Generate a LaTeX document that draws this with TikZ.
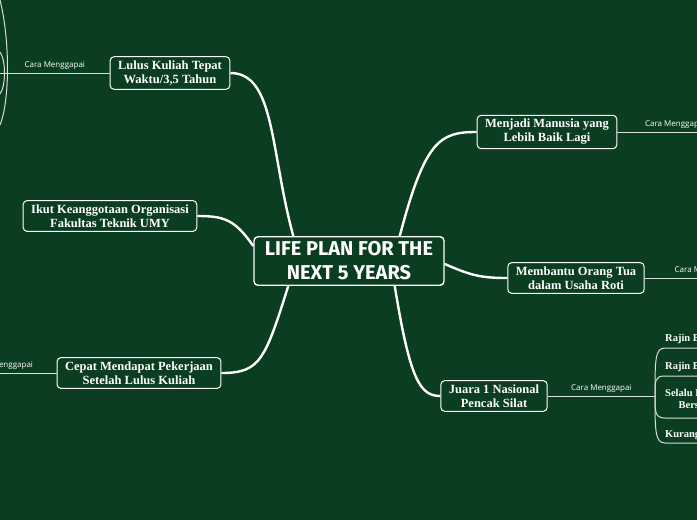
\documentclass[tikz,border=0pt]{standalone}
\usepackage{fontspec}
\setmainfont{Liberation Serif}
\newfontfamily\titlefont{Fira Sans}
\newfontfamily\smallfont{Open Sans}
\definecolor{bg}{HTML}{0B3D21}
\definecolor{ln}{HTML}{D8DED9}
\begin{document}
\begin{tikzpicture}[x=1pt,y=-1pt,
  topic/.style={draw=white,line width=1pt,rounded corners=4pt,fill=bg,text=white,font=\bfseries\fontsize{12.5}{14}\selectfont,align=center,inner xsep=8pt,inner ysep=4pt},
  central/.style={draw=white,line width=1.4pt,rounded corners=4pt,fill=bg,text=white,font=\titlefont\bfseries\fontsize{20}{24}\selectfont,align=center,inner xsep=11pt,inner ysep=5pt},
  branch/.style={draw=white,line width=2.4pt},
  sub/.style={draw=ln,line width=1pt},
  lab/.style={text=white,font=\smallfont\fontsize{8}{9}\selectfont},
  item/.style={text=white,font=\bfseries\fontsize{10.5}{12}\selectfont,anchor=west,inner sep=1pt}]
\fill[bg] (0,0) rectangle (697,520);
\useasboundingbox (0,0) rectangle (697,520);
\clip (0,0) rectangle (697,520);
\coordinate (l1) at (0,73);
\coordinate (l3) at (0,373);
\coordinate (r1) at (697,132);
\coordinate (r2) at (697,278);
\coordinate (r3) at (655,396);
\draw[sub] (0,0) .. controls (10,40) and (10,100) .. (0,125);
\draw[sub] (0,52) .. controls (6,60) and (6,86) .. (0,94);
\node[topic] (lulus) at (170,73) {Lulus Kuliah Tepat\\Waktu/3,5 Tahun};
\node[topic] (ikut) at (110,216) {Ikut Keanggotaan Organisasi\\Fakultas Teknik UMY};
\node[topic] (cepat) at (139,373) {Cepat Mendapat Pekerjaan\\Setelah Lulus Kuliah};
\node[topic] (menjadi) at (547,132) {Menjadi Manusia yang\\Lebih Baik Lagi};
\node[topic] (membantu) at (576,278) {Membantu Orang Tua\\dalam Usaha Roti};
\node[topic] (juara) at (494,396) {Juara 1 Nasional\\Pencak Silat};
\draw[sub] (lulus.west) -- (l1) node[lab,pos=0.5,above=0pt] {Cara Menggapai};
\draw[sub] (cepat.west) -- (l3) node[lab,pos=0.95,above=0pt] {Cara Menggapai};
\draw[sub] (menjadi.east) -- (r1) node[lab,pos=0.3,above=0pt,anchor=south west] {Cara Menggapai};
\draw[sub] (membantu.east) -- (r2) node[lab,pos=0.5,above=0pt,anchor=south west] {Cara Menggapai};
\draw[sub] (juara.east) -- (r3) node[lab,midway,above=0pt] {Cara Menggapai};
\node[item] (i1) at (664,339) {Rajin Beribadah};
\node[item] (i2) at (664,367) {Rajin Berlatih};
\node[item,align=left] (i3) at (664,400) {Selalu Berdoa dan\\\phantom{Sel}Bersyukur};
\node[item] (i4) at (664,435) {Kurang Bermain};
\draw[sub] (r3) .. controls (655,360) and (655,348) .. (665,348) -- (697,348);
\draw[sub] (r3) .. controls (655,380) and (655,376) .. (665,376) -- (697,376);
\draw[sub] (r3) .. controls (655,412) and (655,418) .. (665,418) -- (697,418);
\draw[sub] (r3) .. controls (655,430) and (655,443) .. (665,443) -- (697,443);
\node[central] (c) at (349,261) {LIFE PLAN FOR THE\\NEXT 5 YEARS};
\draw[branch] (c.north west)++(40,0) .. controls (270,150) and (275,73) .. (lulus.east);
\draw[branch] (c.west)++(0,-15) .. controls (235,220) and (225,216) .. (ikut.east);
\draw[branch] (c.south west)++(35,0) .. controls (265,360) and (260,373) .. (cepat.east);
\draw[branch] (c.north east)++(-45,0) .. controls (425,140) and (440,132) .. (menjadi.west);
\draw[branch] (c.east)++(0,3) .. controls (470,275) and (480,278) .. (membantu.west);
\draw[branch] (c.south east)++(-50,0) .. controls (410,380) and (420,396) .. (juara.west);
\end{tikzpicture}
\end{document}
